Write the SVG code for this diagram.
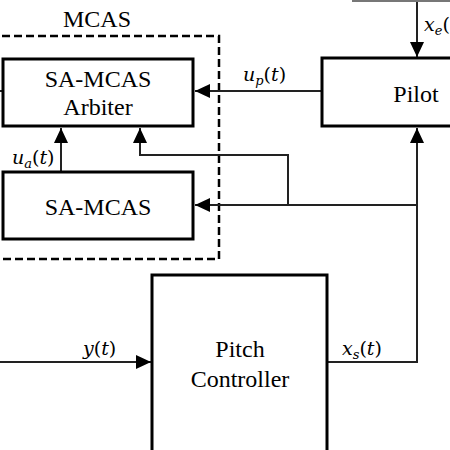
<svg xmlns="http://www.w3.org/2000/svg" width="450" height="450" viewBox="0 0 450 450">
<style>
.box{fill:#fff;stroke:#000;stroke-width:3}
.lbl{font-family:'Liberation Serif','Times New Roman','DejaVu Serif',serif;font-size:24px;fill:#000;text-anchor:middle}
.m{font-family:'DejaVu Serif',serif;font-style:italic;font-size:19px;fill:#000}
.m .up{font-style:normal}
.sub{font-size:13px}
.c{fill:none;stroke:#222;stroke-width:2}
</style>
<defs>
<marker id="ah" markerUnits="userSpaceOnUse" markerWidth="16" markerHeight="14" refX="15" refY="7" orient="auto">
<path d="M0,0 L15,7 L0,14 Z" fill="#000"/>
</marker>
</defs>
<rect width="450" height="450" fill="#fff"/>
<rect x="352" y="-4" width="110" height="6" fill="#777"/>
<g id="mcas">
<rect x="-10" y="36" width="229" height="223" fill="none" stroke="#000" stroke-width="2.5" stroke-dasharray="8 4"/>
<text class="lbl" x="97" y="27">MCAS</text>
</g>
<g id="connectors">
<path class="c" d="M322,91 H195" marker-end="url(#ah)"/>
<path class="c" d="M417,2 V57" marker-end="url(#ah)"/>
<path class="c" d="M327,362 H417 V128" marker-end="url(#ah)"/>
<path class="c" d="M417,205 H195" marker-end="url(#ah)"/>
<path class="c" d="M288,205 V155 H140 V128" marker-end="url(#ah)"/>
<path class="c" d="M61,172 V128" marker-end="url(#ah)"/>
<path class="c" d="M-2,91 H3"/>
<path class="c" d="M-2,362 H151" marker-end="url(#ah)"/>
<text class="m" x="243" y="81">u<tspan class="sub" dy="4">p</tspan><tspan class="up" dy="-4">(</tspan>t<tspan class="up">)</tspan></text>
<text class="m" x="424" y="31">x<tspan class="sub" dy="4">e</tspan><tspan class="up" dy="-4">(</tspan>t<tspan class="up">)</tspan></text>
<text class="m" x="12" y="164">u<tspan class="sub" dy="4">a</tspan><tspan class="up" dy="-4">(</tspan>t<tspan class="up">)</tspan></text>
<text class="m" x="83" y="355">y<tspan class="up">(</tspan>t<tspan class="up">)</tspan></text>
<text class="m" x="342" y="355">x<tspan class="sub" dy="4">s</tspan><tspan class="up" dy="-4">(</tspan>t<tspan class="up">)</tspan></text>
</g>
<g id="arbiter">
<rect class="box" x="3" y="59" width="190" height="67"/>
<text class="lbl" x="98" y="87">SA-MCAS</text>
<text class="lbl" x="98" y="115">Arbiter</text>
</g>
<g id="samcas">
<rect class="box" x="3" y="172" width="190" height="67"/>
<text class="lbl" x="98" y="215">SA-MCAS</text>
</g>
<g id="pilot">
<rect class="box" x="322" y="58" width="140" height="68"/>
<text class="lbl" x="416" y="102">Pilot</text>
</g>
<g id="pitch">
<rect class="box" x="152" y="275" width="175" height="190"/>
<text class="lbl" x="240" y="357">Pitch</text>
<text class="lbl" x="240" y="387">Controller</text>
</g>
</svg>
